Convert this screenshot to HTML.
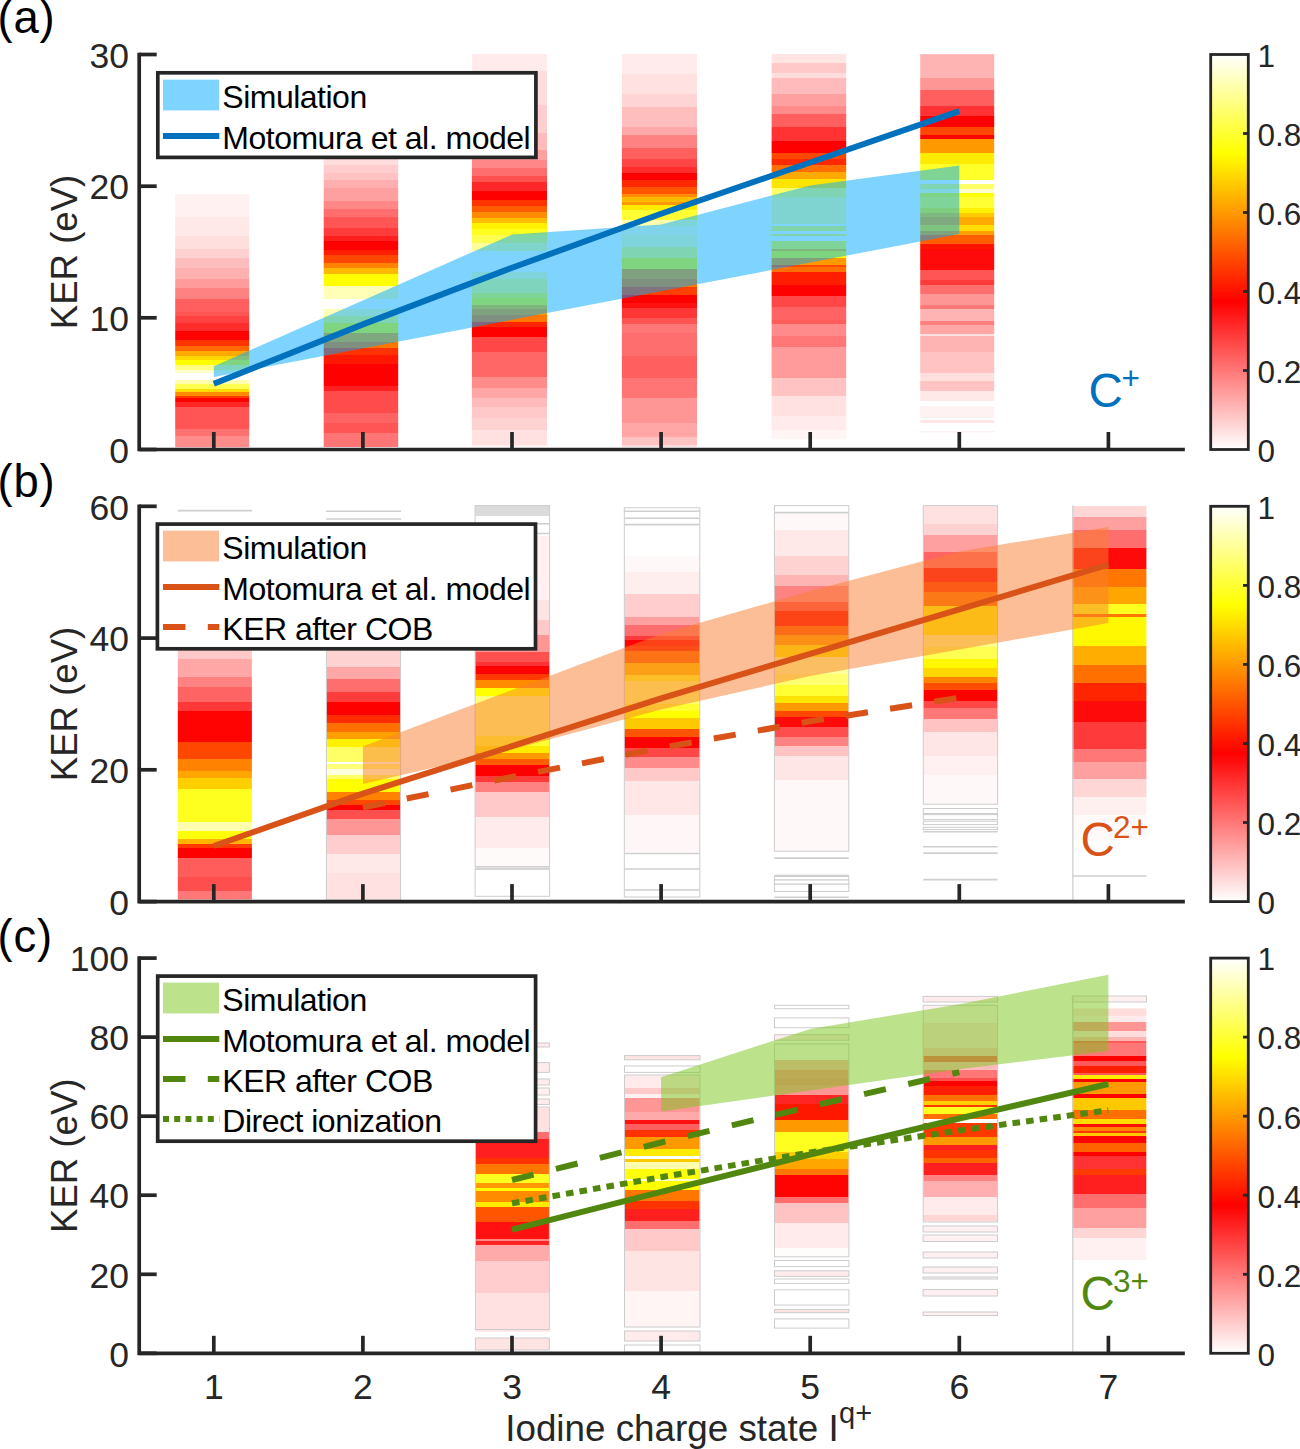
<!DOCTYPE html>
<html><head><meta charset="utf-8"><style>
html,body{margin:0;padding:0;background:#fff;}
svg{display:block;font-family:'Liberation Sans',sans-serif}
</style></head><body>
<svg width="1300" height="1449" viewBox="0 0 1300 1449">
<defs><linearGradient id="g1" x1="0" y1="0" x2="0" y2="1"><stop offset="0.0000" stop-color="#fff1f1"/><stop offset="0.0908" stop-color="#fff1f1"/><stop offset="0.0908" stop-color="#ffe8e8"/><stop offset="0.1650" stop-color="#ffe8e8"/><stop offset="0.1650" stop-color="#ffdede"/><stop offset="0.2163" stop-color="#ffdede"/><stop offset="0.2163" stop-color="#ffd0d0"/><stop offset="0.2535" stop-color="#ffd0d0"/><stop offset="0.2535" stop-color="#ffbebe"/><stop offset="0.2921" stop-color="#ffbebe"/><stop offset="0.2921" stop-color="#ffb0b0"/><stop offset="0.3348" stop-color="#ffb0b0"/><stop offset="0.3348" stop-color="#ff9b9b"/><stop offset="0.3703" stop-color="#ff9b9b"/><stop offset="0.3703" stop-color="#ff8282"/><stop offset="0.4129" stop-color="#ff8282"/><stop offset="0.4129" stop-color="#ff5f5f"/><stop offset="0.4659" stop-color="#ff5f5f"/><stop offset="0.4659" stop-color="#ff5555"/><stop offset="0.4801" stop-color="#ff5555"/><stop offset="0.4801" stop-color="#ff4141"/><stop offset="0.5109" stop-color="#ff4141"/><stop offset="0.5109" stop-color="#ff2c2c"/><stop offset="0.5401" stop-color="#ff2c2c"/><stop offset="0.5401" stop-color="#ff0303"/><stop offset="0.5772" stop-color="#ff0303"/><stop offset="0.5772" stop-color="#ff3300"/><stop offset="0.5989" stop-color="#ff3300"/><stop offset="0.5989" stop-color="#ff6900"/><stop offset="0.6210" stop-color="#ff6900"/><stop offset="0.6210" stop-color="#ffaa00"/><stop offset="0.6396" stop-color="#ffaa00"/><stop offset="0.6396" stop-color="#ffd600"/><stop offset="0.6542" stop-color="#ffd600"/><stop offset="0.6542" stop-color="#ffff00"/><stop offset="0.6763" stop-color="#ffff00"/><stop offset="0.6763" stop-color="#ffff80"/><stop offset="0.6948" stop-color="#ffff80"/><stop offset="0.6948" stop-color="#ffffcc"/><stop offset="0.7059" stop-color="#ffffcc"/><stop offset="0.7059" stop-color="#ffffff"/><stop offset="0.7351" stop-color="#ffffff"/><stop offset="0.7351" stop-color="#ffffad"/><stop offset="0.7501" stop-color="#ffffad"/><stop offset="0.7501" stop-color="#ffff52"/><stop offset="0.7683" stop-color="#ffff52"/><stop offset="0.7683" stop-color="#ffdd00"/><stop offset="0.7829" stop-color="#ffdd00"/><stop offset="0.7829" stop-color="#ff8b00"/><stop offset="0.7975" stop-color="#ff8b00"/><stop offset="0.7975" stop-color="#ff3a00"/><stop offset="0.8050" stop-color="#ff3a00"/><stop offset="0.8050" stop-color="#ff0000"/><stop offset="0.8196" stop-color="#ff0000"/><stop offset="0.8196" stop-color="#ff2525"/><stop offset="0.8417" stop-color="#ff2525"/><stop offset="0.8417" stop-color="#ff5555"/><stop offset="0.9266" stop-color="#ff5555"/><stop offset="0.9266" stop-color="#ff7070"/><stop offset="0.9558" stop-color="#ff7070"/><stop offset="0.9558" stop-color="#ff8b8b"/><stop offset="1.0000" stop-color="#ff8b8b"/></linearGradient><linearGradient id="g2" x1="0" y1="0" x2="0" y2="1"><stop offset="0.0000" stop-color="#ffdddd"/><stop offset="0.0505" stop-color="#ffdddd"/><stop offset="0.0505" stop-color="#ffcdcd"/><stop offset="0.0774" stop-color="#ffcdcd"/><stop offset="0.0774" stop-color="#ffc3c3"/><stop offset="0.1010" stop-color="#ffc3c3"/><stop offset="0.1010" stop-color="#ffafaf"/><stop offset="0.1279" stop-color="#ffafaf"/><stop offset="0.1279" stop-color="#ffa0a0"/><stop offset="0.1717" stop-color="#ffa0a0"/><stop offset="0.1717" stop-color="#ff8787"/><stop offset="0.1987" stop-color="#ff8787"/><stop offset="0.1987" stop-color="#ff6e6e"/><stop offset="0.2256" stop-color="#ff6e6e"/><stop offset="0.2256" stop-color="#ff5555"/><stop offset="0.2626" stop-color="#ff5555"/><stop offset="0.2626" stop-color="#ff3c3c"/><stop offset="0.2896" stop-color="#ff3c3c"/><stop offset="0.2896" stop-color="#ff1f1f"/><stop offset="0.3064" stop-color="#ff1f1f"/><stop offset="0.3064" stop-color="#ff0000"/><stop offset="0.3367" stop-color="#ff0000"/><stop offset="0.3367" stop-color="#ff1f00"/><stop offset="0.3535" stop-color="#ff1f00"/><stop offset="0.3535" stop-color="#ff4700"/><stop offset="0.3805" stop-color="#ff4700"/><stop offset="0.3805" stop-color="#ff8200"/><stop offset="0.3973" stop-color="#ff8200"/><stop offset="0.3973" stop-color="#ffb900"/><stop offset="0.4175" stop-color="#ffb900"/><stop offset="0.4175" stop-color="#ffff00"/><stop offset="0.4579" stop-color="#ffff00"/><stop offset="0.4579" stop-color="#ffffb8"/><stop offset="0.5027" stop-color="#ffffb8"/><stop offset="0.5027" stop-color="#ffffff"/><stop offset="0.5350" stop-color="#ffffff"/><stop offset="0.5350" stop-color="#ffffb8"/><stop offset="0.5603" stop-color="#ffffb8"/><stop offset="0.5603" stop-color="#ffff66"/><stop offset="0.5818" stop-color="#ffff66"/><stop offset="0.5818" stop-color="#ffff00"/><stop offset="0.6178" stop-color="#ffff00"/><stop offset="0.6178" stop-color="#ffa700"/><stop offset="0.6465" stop-color="#ffa700"/><stop offset="0.6465" stop-color="#ff7700"/><stop offset="0.6667" stop-color="#ff7700"/><stop offset="0.6667" stop-color="#ff3300"/><stop offset="0.6902" stop-color="#ff3300"/><stop offset="0.6902" stop-color="#ff1800"/><stop offset="0.7189" stop-color="#ff1800"/><stop offset="0.7189" stop-color="#ff0000"/><stop offset="0.7946" stop-color="#ff0000"/><stop offset="0.7946" stop-color="#ff1f1f"/><stop offset="0.8114" stop-color="#ff1f1f"/><stop offset="0.8114" stop-color="#ff4b4b"/><stop offset="0.8845" stop-color="#ff4b4b"/><stop offset="0.8845" stop-color="#ff6464"/><stop offset="0.9205" stop-color="#ff6464"/><stop offset="0.9205" stop-color="#ff5555"/><stop offset="0.9529" stop-color="#ff5555"/><stop offset="0.9529" stop-color="#ff7474"/><stop offset="1.0000" stop-color="#ff7474"/></linearGradient><linearGradient id="g3" x1="0" y1="0" x2="0" y2="1"><stop offset="0.0000" stop-color="#ffebeb"/><stop offset="0.0433" stop-color="#ffebeb"/><stop offset="0.0433" stop-color="#ffdddd"/><stop offset="0.1298" stop-color="#ffdddd"/><stop offset="0.1298" stop-color="#ffcfcf"/><stop offset="0.2010" stop-color="#ffcfcf"/><stop offset="0.2010" stop-color="#ffbbbb"/><stop offset="0.2443" stop-color="#ffbbbb"/><stop offset="0.2443" stop-color="#ffa0a0"/><stop offset="0.2707" stop-color="#ffa0a0"/><stop offset="0.2707" stop-color="#ff8787"/><stop offset="0.2891" stop-color="#ff8787"/><stop offset="0.2891" stop-color="#ff6e6e"/><stop offset="0.3102" stop-color="#ff6e6e"/><stop offset="0.3102" stop-color="#ff5050"/><stop offset="0.3257" stop-color="#ff5050"/><stop offset="0.3257" stop-color="#ff2828"/><stop offset="0.3496" stop-color="#ff2828"/><stop offset="0.3496" stop-color="#ff0000"/><stop offset="0.3707" stop-color="#ff0000"/><stop offset="0.3707" stop-color="#ff3300"/><stop offset="0.3865" stop-color="#ff3300"/><stop offset="0.3865" stop-color="#ff5c00"/><stop offset="0.4020" stop-color="#ff5c00"/><stop offset="0.4020" stop-color="#ff8b00"/><stop offset="0.4181" stop-color="#ff8b00"/><stop offset="0.4181" stop-color="#ffbe00"/><stop offset="0.4288" stop-color="#ffbe00"/><stop offset="0.4288" stop-color="#fff100"/><stop offset="0.4445" stop-color="#fff100"/><stop offset="0.4445" stop-color="#ffff1f"/><stop offset="0.4603" stop-color="#ffff1f"/><stop offset="0.4603" stop-color="#ffff52"/><stop offset="0.4814" stop-color="#ffff52"/><stop offset="0.4814" stop-color="#ffff99"/><stop offset="0.5023" stop-color="#ffff99"/><stop offset="0.5023" stop-color="#ffffff"/><stop offset="0.5547" stop-color="#ffffff"/><stop offset="0.5547" stop-color="#ffffb8"/><stop offset="0.5735" stop-color="#ffffb8"/><stop offset="0.5735" stop-color="#ffff7a"/><stop offset="0.6079" stop-color="#ffff7a"/><stop offset="0.6079" stop-color="#ffff33"/><stop offset="0.6214" stop-color="#ffff33"/><stop offset="0.6214" stop-color="#ffff00"/><stop offset="0.6377" stop-color="#ffff00"/><stop offset="0.6377" stop-color="#ffc200"/><stop offset="0.6486" stop-color="#ffc200"/><stop offset="0.6486" stop-color="#ff9900"/><stop offset="0.6649" stop-color="#ff9900"/><stop offset="0.6649" stop-color="#ff7700"/><stop offset="0.6812" stop-color="#ff7700"/><stop offset="0.6812" stop-color="#ff2500"/><stop offset="0.6949" stop-color="#ff2500"/><stop offset="0.6949" stop-color="#ff0000"/><stop offset="0.7193" stop-color="#ff0000"/><stop offset="0.7193" stop-color="#ff4747"/><stop offset="0.7575" stop-color="#ff4747"/><stop offset="0.7575" stop-color="#ff6666"/><stop offset="0.8229" stop-color="#ff6666"/><stop offset="0.8229" stop-color="#ff8b8b"/><stop offset="0.8501" stop-color="#ff8b8b"/><stop offset="0.8501" stop-color="#ffa7a7"/><stop offset="0.8746" stop-color="#ffa7a7"/><stop offset="0.8746" stop-color="#ffbbbb"/><stop offset="0.8990" stop-color="#ffbbbb"/><stop offset="0.8990" stop-color="#ffc9c9"/><stop offset="0.9262" stop-color="#ffc9c9"/><stop offset="0.9262" stop-color="#ffd2d2"/><stop offset="0.9562" stop-color="#ffd2d2"/><stop offset="0.9562" stop-color="#ffe1e1"/><stop offset="0.9944" stop-color="#ffe1e1"/><stop offset="0.9944" stop-color="#fff1f1"/><stop offset="1.0000" stop-color="#fff1f1"/></linearGradient><linearGradient id="g4" x1="0" y1="0" x2="0" y2="1"><stop offset="0.0000" stop-color="#ffebeb"/><stop offset="0.0501" stop-color="#ffebeb"/><stop offset="0.0501" stop-color="#ffe1e1"/><stop offset="0.1003" stop-color="#ffe1e1"/><stop offset="0.1003" stop-color="#ffd4d4"/><stop offset="0.1344" stop-color="#ffd4d4"/><stop offset="0.1344" stop-color="#ffbebe"/><stop offset="0.1845" stop-color="#ffbebe"/><stop offset="0.1845" stop-color="#ffaaaa"/><stop offset="0.2057" stop-color="#ffaaaa"/><stop offset="0.2057" stop-color="#ff8282"/><stop offset="0.2398" stop-color="#ff8282"/><stop offset="0.2398" stop-color="#ff5f5f"/><stop offset="0.2662" stop-color="#ff5f5f"/><stop offset="0.2662" stop-color="#ff4646"/><stop offset="0.2874" stop-color="#ff4646"/><stop offset="0.2874" stop-color="#ff2d2d"/><stop offset="0.3031" stop-color="#ff2d2d"/><stop offset="0.3031" stop-color="#ff0000"/><stop offset="0.3215" stop-color="#ff0000"/><stop offset="0.3215" stop-color="#ff2900"/><stop offset="0.3372" stop-color="#ff2900"/><stop offset="0.3372" stop-color="#ff5500"/><stop offset="0.3558" stop-color="#ff5500"/><stop offset="0.3558" stop-color="#ff8b00"/><stop offset="0.3637" stop-color="#ff8b00"/><stop offset="0.3637" stop-color="#ffbb00"/><stop offset="0.3769" stop-color="#ffbb00"/><stop offset="0.3769" stop-color="#ff9900"/><stop offset="0.3838" stop-color="#ff9900"/><stop offset="0.3838" stop-color="#ffeb00"/><stop offset="0.3976" stop-color="#ffeb00"/><stop offset="0.3976" stop-color="#ffff33"/><stop offset="0.4225" stop-color="#ffff33"/><stop offset="0.4225" stop-color="#ffffad"/><stop offset="0.4385" stop-color="#ffffad"/><stop offset="0.4385" stop-color="#ffffd6"/><stop offset="0.4614" stop-color="#ffffd6"/><stop offset="0.4614" stop-color="#ffffb8"/><stop offset="0.4910" stop-color="#ffffb8"/><stop offset="0.4910" stop-color="#ffff66"/><stop offset="0.5185" stop-color="#ffff66"/><stop offset="0.5185" stop-color="#ffff00"/><stop offset="0.5482" stop-color="#ffff00"/><stop offset="0.5482" stop-color="#ff9900"/><stop offset="0.5732" stop-color="#ff9900"/><stop offset="0.5732" stop-color="#ff7700"/><stop offset="0.5938" stop-color="#ff7700"/><stop offset="0.5938" stop-color="#ff4100"/><stop offset="0.6121" stop-color="#ff4100"/><stop offset="0.6121" stop-color="#ff0000"/><stop offset="0.6327" stop-color="#ff0000"/><stop offset="0.6327" stop-color="#ff1111"/><stop offset="0.6462" stop-color="#ff1111"/><stop offset="0.6462" stop-color="#ff3636"/><stop offset="0.6717" stop-color="#ff3636"/><stop offset="0.6717" stop-color="#ff5555"/><stop offset="0.6882" stop-color="#ff5555"/><stop offset="0.6882" stop-color="#ff7777"/><stop offset="0.7111" stop-color="#ff7777"/><stop offset="0.7111" stop-color="#ff6e6e"/><stop offset="0.7681" stop-color="#ff6e6e"/><stop offset="0.7681" stop-color="#ff5f5f"/><stop offset="0.8251" stop-color="#ff5f5f"/><stop offset="0.8251" stop-color="#ff7474"/><stop offset="0.8753" stop-color="#ff7474"/><stop offset="0.8753" stop-color="#ff9696"/><stop offset="0.9394" stop-color="#ff9696"/><stop offset="0.9394" stop-color="#ffa7a7"/><stop offset="0.9735" stop-color="#ffa7a7"/><stop offset="0.9735" stop-color="#ffc2c2"/><stop offset="0.9941" stop-color="#ffc2c2"/><stop offset="0.9941" stop-color="#ffdddd"/><stop offset="1.0000" stop-color="#ffdddd"/></linearGradient><linearGradient id="g5" x1="0" y1="0" x2="0" y2="1"><stop offset="0.0000" stop-color="#ffe4e4"/><stop offset="0.0244" stop-color="#ffe4e4"/><stop offset="0.0244" stop-color="#ffc9c9"/><stop offset="0.0485" stop-color="#ffc9c9"/><stop offset="0.0485" stop-color="#ffdddd"/><stop offset="0.0620" stop-color="#ffdddd"/><stop offset="0.0620" stop-color="#ffbbbb"/><stop offset="0.1023" stop-color="#ffbbbb"/><stop offset="0.1023" stop-color="#ffa0a0"/><stop offset="0.1345" stop-color="#ffa0a0"/><stop offset="0.1345" stop-color="#ff8b8b"/><stop offset="0.1560" stop-color="#ff8b8b"/><stop offset="0.1560" stop-color="#ff5f5f"/><stop offset="0.1882" stop-color="#ff5f5f"/><stop offset="0.1882" stop-color="#ff3333"/><stop offset="0.2259" stop-color="#ff3333"/><stop offset="0.2259" stop-color="#ff0000"/><stop offset="0.2580" stop-color="#ff0000"/><stop offset="0.2580" stop-color="#ff4700"/><stop offset="0.2715" stop-color="#ff4700"/><stop offset="0.2715" stop-color="#ff2900"/><stop offset="0.2876" stop-color="#ff2900"/><stop offset="0.2876" stop-color="#ff7000"/><stop offset="0.3066" stop-color="#ff7000"/><stop offset="0.3066" stop-color="#ffaa00"/><stop offset="0.3253" stop-color="#ffaa00"/><stop offset="0.3253" stop-color="#ffe400"/><stop offset="0.3468" stop-color="#ffe400"/><stop offset="0.3468" stop-color="#ffff66"/><stop offset="0.3710" stop-color="#ffff66"/><stop offset="0.3710" stop-color="#ffffa3"/><stop offset="0.4403" stop-color="#ffffa3"/><stop offset="0.4403" stop-color="#ffffff"/><stop offset="0.4463" stop-color="#ffffff"/><stop offset="0.4463" stop-color="#ffff52"/><stop offset="0.4590" stop-color="#ffff52"/><stop offset="0.4590" stop-color="#ffffff"/><stop offset="0.4660" stop-color="#ffffff"/><stop offset="0.4660" stop-color="#ffff52"/><stop offset="0.4730" stop-color="#ffff52"/><stop offset="0.4730" stop-color="#ffffff"/><stop offset="0.4847" stop-color="#ffffff"/><stop offset="0.4847" stop-color="#ffff33"/><stop offset="0.5055" stop-color="#ffff33"/><stop offset="0.5055" stop-color="#ffc200"/><stop offset="0.5101" stop-color="#ffc200"/><stop offset="0.5101" stop-color="#ffff00"/><stop offset="0.5288" stop-color="#ffff00"/><stop offset="0.5288" stop-color="#ff9900"/><stop offset="0.5475" stop-color="#ff9900"/><stop offset="0.5475" stop-color="#ff4700"/><stop offset="0.5527" stop-color="#ff4700"/><stop offset="0.5527" stop-color="#ff7000"/><stop offset="0.5662" stop-color="#ff7000"/><stop offset="0.5662" stop-color="#ff1f00"/><stop offset="0.5987" stop-color="#ff1f00"/><stop offset="0.5987" stop-color="#ff0000"/><stop offset="0.6290" stop-color="#ff0000"/><stop offset="0.6290" stop-color="#ff4747"/><stop offset="0.6568" stop-color="#ff4747"/><stop offset="0.6568" stop-color="#ff6363"/><stop offset="0.6903" stop-color="#ff6363"/><stop offset="0.6903" stop-color="#ff5c5c"/><stop offset="0.6996" stop-color="#ff5c5c"/><stop offset="0.6996" stop-color="#ff8b8b"/><stop offset="0.7321" stop-color="#ff8b8b"/><stop offset="0.7321" stop-color="#ff7777"/><stop offset="0.7601" stop-color="#ff7777"/><stop offset="0.7601" stop-color="#ff9b9b"/><stop offset="0.8416" stop-color="#ff9b9b"/><stop offset="0.8416" stop-color="#ffc3c3"/><stop offset="0.8884" stop-color="#ffc3c3"/><stop offset="0.8884" stop-color="#ffe1e1"/><stop offset="0.9395" stop-color="#ffe1e1"/><stop offset="0.9395" stop-color="#ffebeb"/><stop offset="0.9769" stop-color="#ffebeb"/><stop offset="0.9769" stop-color="#fff5f5"/><stop offset="1.0000" stop-color="#fff5f5"/></linearGradient><linearGradient id="g6" x1="0" y1="0" x2="0" y2="1"><stop offset="0.0000" stop-color="#ffb4b4"/><stop offset="0.0631" stop-color="#ffb4b4"/><stop offset="0.0631" stop-color="#ff9696"/><stop offset="0.0959" stop-color="#ff9696"/><stop offset="0.0959" stop-color="#ff5f5f"/><stop offset="0.1369" stop-color="#ff5f5f"/><stop offset="0.1369" stop-color="#ff3333"/><stop offset="0.1643" stop-color="#ff3333"/><stop offset="0.1643" stop-color="#ff0000"/><stop offset="0.1915" stop-color="#ff0000"/><stop offset="0.1915" stop-color="#ff4700"/><stop offset="0.2135" stop-color="#ff4700"/><stop offset="0.2135" stop-color="#ff0300"/><stop offset="0.2243" stop-color="#ff0300"/><stop offset="0.2243" stop-color="#ff9900"/><stop offset="0.2626" stop-color="#ff9900"/><stop offset="0.2626" stop-color="#ffeb00"/><stop offset="0.2901" stop-color="#ffeb00"/><stop offset="0.2901" stop-color="#ffff29"/><stop offset="0.3337" stop-color="#ffff29"/><stop offset="0.3337" stop-color="#ffffff"/><stop offset="0.3419" stop-color="#ffffff"/><stop offset="0.3419" stop-color="#ffff66"/><stop offset="0.3556" stop-color="#ffff66"/><stop offset="0.3556" stop-color="#ffffcc"/><stop offset="0.3667" stop-color="#ffffcc"/><stop offset="0.3667" stop-color="#ffff0a"/><stop offset="0.3770" stop-color="#ffff0a"/><stop offset="0.3770" stop-color="#ffff33"/><stop offset="0.4079" stop-color="#ffff33"/><stop offset="0.4079" stop-color="#fff100"/><stop offset="0.4198" stop-color="#fff100"/><stop offset="0.4198" stop-color="#ffc900"/><stop offset="0.4314" stop-color="#ffc900"/><stop offset="0.4314" stop-color="#ffaa00"/><stop offset="0.4528" stop-color="#ffaa00"/><stop offset="0.4528" stop-color="#ffdd00"/><stop offset="0.4671" stop-color="#ffdd00"/><stop offset="0.4671" stop-color="#ffa000"/><stop offset="0.4790" stop-color="#ffa000"/><stop offset="0.4790" stop-color="#ff5f00"/><stop offset="0.5025" stop-color="#ff5f00"/><stop offset="0.5025" stop-color="#ff1400"/><stop offset="0.5144" stop-color="#ff1400"/><stop offset="0.5144" stop-color="#ff0a0a"/><stop offset="0.5691" stop-color="#ff0a0a"/><stop offset="0.5691" stop-color="#ff5555"/><stop offset="0.5974" stop-color="#ff5555"/><stop offset="0.5974" stop-color="#ff3a3a"/><stop offset="0.6092" stop-color="#ff3a3a"/><stop offset="0.6092" stop-color="#ff6e6e"/><stop offset="0.6330" stop-color="#ff6e6e"/><stop offset="0.6330" stop-color="#ff9696"/><stop offset="0.6639" stop-color="#ff9696"/><stop offset="0.6639" stop-color="#ff7777"/><stop offset="0.6734" stop-color="#ff7777"/><stop offset="0.6734" stop-color="#ffb4b4"/><stop offset="0.7041" stop-color="#ffb4b4"/><stop offset="0.7041" stop-color="#ff7e7e"/><stop offset="0.7168" stop-color="#ff7e7e"/><stop offset="0.7168" stop-color="#ffa7a7"/><stop offset="0.7382" stop-color="#ffa7a7"/><stop offset="0.7382" stop-color="#ffe1e1"/><stop offset="0.7450" stop-color="#ffe1e1"/><stop offset="0.7450" stop-color="#ffb4b4"/><stop offset="0.7878" stop-color="#ffb4b4"/><stop offset="0.7878" stop-color="#ffc3c3"/><stop offset="0.8425" stop-color="#ffc3c3"/><stop offset="0.8425" stop-color="#ffdede"/><stop offset="0.8637" stop-color="#ffdede"/><stop offset="0.8637" stop-color="#ffc3c3"/><stop offset="0.8898" stop-color="#ffc3c3"/><stop offset="0.8898" stop-color="#ffe8e8"/><stop offset="0.9157" stop-color="#ffe8e8"/><stop offset="0.9157" stop-color="#ffffff"/><stop offset="0.9300" stop-color="#ffffff"/><stop offset="0.9300" stop-color="#fff2f2"/><stop offset="0.9609" stop-color="#fff2f2"/><stop offset="0.9609" stop-color="#ffffff"/><stop offset="0.9680" stop-color="#ffffff"/><stop offset="0.9680" stop-color="#ffe6e6"/><stop offset="0.9738" stop-color="#ffe6e6"/><stop offset="0.9738" stop-color="#ffffff"/><stop offset="0.9952" stop-color="#ffffff"/><stop offset="0.9952" stop-color="#fff0f0"/><stop offset="1.0000" stop-color="#fff0f0"/></linearGradient><linearGradient id="cb7" x1="0" y1="1" x2="0" y2="0"><stop offset="0.000" stop-color="#ffffff"/><stop offset="0.375" stop-color="#ff0000"/><stop offset="0.750" stop-color="#ffff00"/><stop offset="1.000" stop-color="#ffffff"/></linearGradient><linearGradient id="g8" x1="0" y1="0" x2="0" y2="1"><stop offset="0.0000" stop-color="#ffc9c9"/><stop offset="0.3377" stop-color="#ffc9c9"/><stop offset="0.3377" stop-color="#ffc9c9"/><stop offset="0.3582" stop-color="#ffc9c9"/><stop offset="0.3582" stop-color="#ffa7a7"/><stop offset="0.4083" stop-color="#ffa7a7"/><stop offset="0.4083" stop-color="#ff8282"/><stop offset="0.4346" stop-color="#ff8282"/><stop offset="0.4346" stop-color="#ff6464"/><stop offset="0.4751" stop-color="#ff6464"/><stop offset="0.4751" stop-color="#ff3737"/><stop offset="0.4991" stop-color="#ff3737"/><stop offset="0.4991" stop-color="#ff0303"/><stop offset="0.5803" stop-color="#ff0303"/><stop offset="0.5803" stop-color="#ff4700"/><stop offset="0.6258" stop-color="#ff4700"/><stop offset="0.6258" stop-color="#ff8200"/><stop offset="0.6567" stop-color="#ff8200"/><stop offset="0.6567" stop-color="#ffa700"/><stop offset="0.6775" stop-color="#ffa700"/><stop offset="0.6775" stop-color="#ffcf00"/><stop offset="0.7047" stop-color="#ffcf00"/><stop offset="0.7047" stop-color="#ffff1f"/><stop offset="0.7941" stop-color="#ffff1f"/><stop offset="0.7941" stop-color="#ffffad"/><stop offset="0.8189" stop-color="#ffffad"/><stop offset="0.8189" stop-color="#ffff0a"/><stop offset="0.8389" stop-color="#ffff0a"/><stop offset="0.8389" stop-color="#ffb400"/><stop offset="0.8511" stop-color="#ffb400"/><stop offset="0.8511" stop-color="#ff3a00"/><stop offset="0.8636" stop-color="#ff3a00"/><stop offset="0.8636" stop-color="#ff0000"/><stop offset="0.8908" stop-color="#ff0000"/><stop offset="0.8908" stop-color="#ff5c5c"/><stop offset="0.9403" stop-color="#ff5c5c"/><stop offset="0.9403" stop-color="#ff4e4e"/><stop offset="0.9776" stop-color="#ff4e4e"/><stop offset="0.9776" stop-color="#ff7777"/><stop offset="1.0000" stop-color="#ff7777"/></linearGradient><linearGradient id="g9" x1="0" y1="0" x2="0" y2="1"><stop offset="0.0000" stop-color="#ffdddd"/><stop offset="0.3377" stop-color="#ffdddd"/><stop offset="0.3377" stop-color="#ffd2d2"/><stop offset="0.3819" stop-color="#ffd2d2"/><stop offset="0.3819" stop-color="#ffa7a7"/><stop offset="0.4130" stop-color="#ffa7a7"/><stop offset="0.4130" stop-color="#ff6e6e"/><stop offset="0.4466" stop-color="#ff6e6e"/><stop offset="0.4466" stop-color="#ff3c3c"/><stop offset="0.4751" stop-color="#ff3c3c"/><stop offset="0.4751" stop-color="#ff0000"/><stop offset="0.5087" stop-color="#ff0000"/><stop offset="0.5087" stop-color="#ff2c00"/><stop offset="0.5300" stop-color="#ff2c00"/><stop offset="0.5300" stop-color="#ff7000"/><stop offset="0.5539" stop-color="#ff7000"/><stop offset="0.5539" stop-color="#ffa000"/><stop offset="0.5731" stop-color="#ffa000"/><stop offset="0.5731" stop-color="#fff100"/><stop offset="0.5947" stop-color="#fff100"/><stop offset="0.5947" stop-color="#ffff66"/><stop offset="0.6328" stop-color="#ffff66"/><stop offset="0.6328" stop-color="#ffffff"/><stop offset="0.6399" stop-color="#ffffff"/><stop offset="0.6399" stop-color="#ffff7a"/><stop offset="0.6519" stop-color="#ffff7a"/><stop offset="0.6519" stop-color="#ffffe0"/><stop offset="0.6676" stop-color="#ffffe0"/><stop offset="0.6676" stop-color="#ffff66"/><stop offset="0.6799" stop-color="#ffff66"/><stop offset="0.6799" stop-color="#ffff00"/><stop offset="0.7148" stop-color="#ffff00"/><stop offset="0.7148" stop-color="#ff8200"/><stop offset="0.7345" stop-color="#ff8200"/><stop offset="0.7345" stop-color="#ff4700"/><stop offset="0.7494" stop-color="#ff4700"/><stop offset="0.7494" stop-color="#ff0000"/><stop offset="0.7619" stop-color="#ff0000"/><stop offset="0.7619" stop-color="#ff4e4e"/><stop offset="0.7867" stop-color="#ff4e4e"/><stop offset="0.7867" stop-color="#ff9696"/><stop offset="0.8288" stop-color="#ff9696"/><stop offset="0.8288" stop-color="#ffcdcd"/><stop offset="0.8786" stop-color="#ffcdcd"/><stop offset="0.8786" stop-color="#ffe8e8"/><stop offset="0.9281" stop-color="#ffe8e8"/><stop offset="0.9281" stop-color="#ffe1e1"/><stop offset="1.0000" stop-color="#ffe1e1"/></linearGradient><linearGradient id="g10" x1="0" y1="0" x2="0" y2="1"><stop offset="0.0000" stop-color="#fff1f1"/><stop offset="0.1935" stop-color="#fff1f1"/><stop offset="0.1935" stop-color="#ffe4e4"/><stop offset="0.2539" stop-color="#ffe4e4"/><stop offset="0.2539" stop-color="#ffc9c9"/><stop offset="0.2978" stop-color="#ffc9c9"/><stop offset="0.2978" stop-color="#ff9696"/><stop offset="0.3504" stop-color="#ff9696"/><stop offset="0.3504" stop-color="#ff5050"/><stop offset="0.3794" stop-color="#ff5050"/><stop offset="0.3794" stop-color="#ff3333"/><stop offset="0.3942" stop-color="#ff3333"/><stop offset="0.3942" stop-color="#ff0000"/><stop offset="0.4175" stop-color="#ff0000"/><stop offset="0.4175" stop-color="#ff3a00"/><stop offset="0.4350" stop-color="#ff3a00"/><stop offset="0.4350" stop-color="#ff8b00"/><stop offset="0.4583" stop-color="#ff8b00"/><stop offset="0.4583" stop-color="#ffff00"/><stop offset="0.4846" stop-color="#ffff00"/><stop offset="0.4846" stop-color="#ffff7a"/><stop offset="0.6046" stop-color="#ffff7a"/><stop offset="0.6046" stop-color="#ffff33"/><stop offset="0.6336" stop-color="#ffff33"/><stop offset="0.6336" stop-color="#ffeb00"/><stop offset="0.6569" stop-color="#ffeb00"/><stop offset="0.6569" stop-color="#ff9900"/><stop offset="0.6744" stop-color="#ff9900"/><stop offset="0.6744" stop-color="#ff5c00"/><stop offset="0.6935" stop-color="#ff5c00"/><stop offset="0.6935" stop-color="#ff0000"/><stop offset="0.7246" stop-color="#ff0000"/><stop offset="0.7246" stop-color="#ff3a3a"/><stop offset="0.7433" stop-color="#ff3a3a"/><stop offset="0.7433" stop-color="#ff8282"/><stop offset="0.7748" stop-color="#ff8282"/><stop offset="0.7748" stop-color="#ffc9c9"/><stop offset="0.8498" stop-color="#ffc9c9"/><stop offset="0.8498" stop-color="#ffebeb"/><stop offset="0.9438" stop-color="#ffebeb"/><stop offset="0.9438" stop-color="#fffafa"/><stop offset="1.0000" stop-color="#fffafa"/></linearGradient><linearGradient id="g11" x1="0" y1="0" x2="0" y2="1"><stop offset="0.0000" stop-color="#fff8f8"/><stop offset="0.0524" stop-color="#fff8f8"/><stop offset="0.0524" stop-color="#ffeeee"/><stop offset="0.1275" stop-color="#ffeeee"/><stop offset="0.1275" stop-color="#ffcdcd"/><stop offset="0.2060" stop-color="#ffcdcd"/><stop offset="0.2060" stop-color="#ffa0a0"/><stop offset="0.2321" stop-color="#ffa0a0"/><stop offset="0.2321" stop-color="#ff6e6e"/><stop offset="0.2683" stop-color="#ff6e6e"/><stop offset="0.2683" stop-color="#ff3a3a"/><stop offset="0.2845" stop-color="#ff3a3a"/><stop offset="0.2845" stop-color="#ff0303"/><stop offset="0.3041" stop-color="#ff0303"/><stop offset="0.3041" stop-color="#ff1f00"/><stop offset="0.3204" stop-color="#ff1f00"/><stop offset="0.3204" stop-color="#ff6900"/><stop offset="0.3596" stop-color="#ff6900"/><stop offset="0.3596" stop-color="#ffc200"/><stop offset="0.4012" stop-color="#ffc200"/><stop offset="0.4012" stop-color="#ffff1f"/><stop offset="0.4208" stop-color="#ffff1f"/><stop offset="0.4208" stop-color="#ffff70"/><stop offset="0.4993" stop-color="#ffff70"/><stop offset="0.4993" stop-color="#ffff33"/><stop offset="0.5230" stop-color="#ffff33"/><stop offset="0.5230" stop-color="#ffff00"/><stop offset="0.5450" stop-color="#ffff00"/><stop offset="0.5450" stop-color="#ffc900"/><stop offset="0.5842" stop-color="#ffc900"/><stop offset="0.5842" stop-color="#ff5500"/><stop offset="0.6103" stop-color="#ff5500"/><stop offset="0.6103" stop-color="#ff0000"/><stop offset="0.6495" stop-color="#ff0000"/><stop offset="0.6495" stop-color="#ff4747"/><stop offset="0.6790" stop-color="#ff4747"/><stop offset="0.6790" stop-color="#ff8b8b"/><stop offset="0.7152" stop-color="#ff8b8b"/><stop offset="0.7152" stop-color="#ffc9c9"/><stop offset="0.7608" stop-color="#ffc9c9"/><stop offset="0.7608" stop-color="#ffe7e7"/><stop offset="0.8748" stop-color="#ffe7e7"/><stop offset="0.8748" stop-color="#fff7f7"/><stop offset="1.0000" stop-color="#fff7f7"/></linearGradient><linearGradient id="g12" x1="0" y1="0" x2="0" y2="1"><stop offset="0.0000" stop-color="#fff8f8"/><stop offset="0.0486" stop-color="#fff8f8"/><stop offset="0.0486" stop-color="#ffe8e8"/><stop offset="0.1260" stop-color="#ffe8e8"/><stop offset="0.1260" stop-color="#ffd2d2"/><stop offset="0.1806" stop-color="#ffd2d2"/><stop offset="0.1806" stop-color="#ffb4b4"/><stop offset="0.2149" stop-color="#ffb4b4"/><stop offset="0.2149" stop-color="#ff8282"/><stop offset="0.2606" stop-color="#ff8282"/><stop offset="0.2606" stop-color="#ff4b4b"/><stop offset="0.2894" stop-color="#ff4b4b"/><stop offset="0.2894" stop-color="#ff0a00"/><stop offset="0.3323" stop-color="#ff0a00"/><stop offset="0.3323" stop-color="#ff5c00"/><stop offset="0.3608" stop-color="#ff5c00"/><stop offset="0.3608" stop-color="#ffa000"/><stop offset="0.3887" stop-color="#ffa000"/><stop offset="0.3887" stop-color="#ffeb00"/><stop offset="0.4260" stop-color="#ffeb00"/><stop offset="0.4260" stop-color="#ffff99"/><stop offset="0.4747" stop-color="#ffff99"/><stop offset="0.4747" stop-color="#ffff70"/><stop offset="0.5090" stop-color="#ffff70"/><stop offset="0.5090" stop-color="#ffff33"/><stop offset="0.5405" stop-color="#ffff33"/><stop offset="0.5405" stop-color="#ffe400"/><stop offset="0.5606" stop-color="#ffe400"/><stop offset="0.5606" stop-color="#ff9900"/><stop offset="0.5835" stop-color="#ff9900"/><stop offset="0.5835" stop-color="#ff4700"/><stop offset="0.6036" stop-color="#ff4700"/><stop offset="0.6036" stop-color="#ff0a0a"/><stop offset="0.6324" stop-color="#ff0a0a"/><stop offset="0.6324" stop-color="#ff4e4e"/><stop offset="0.6608" stop-color="#ff4e4e"/><stop offset="0.6608" stop-color="#ff8282"/><stop offset="0.6896" stop-color="#ff8282"/><stop offset="0.6896" stop-color="#ffc3c3"/><stop offset="0.7184" stop-color="#ffc3c3"/><stop offset="0.7184" stop-color="#ffe6e6"/><stop offset="0.7895" stop-color="#ffe6e6"/><stop offset="0.7895" stop-color="#fff8f8"/><stop offset="1.0000" stop-color="#fff8f8"/></linearGradient><linearGradient id="g13" x1="0" y1="0" x2="0" y2="1"><stop offset="0.0000" stop-color="#ffe1e1"/><stop offset="0.0611" stop-color="#ffe1e1"/><stop offset="0.0611" stop-color="#ffd2d2"/><stop offset="0.0966" stop-color="#ffd2d2"/><stop offset="0.0966" stop-color="#ffa0a0"/><stop offset="0.1550" stop-color="#ffa0a0"/><stop offset="0.1550" stop-color="#ff6464"/><stop offset="0.2067" stop-color="#ff6464"/><stop offset="0.2067" stop-color="#ff0a0a"/><stop offset="0.2554" stop-color="#ff0a0a"/><stop offset="0.2554" stop-color="#ff3600"/><stop offset="0.2879" stop-color="#ff3600"/><stop offset="0.2879" stop-color="#ff7400"/><stop offset="0.3366" stop-color="#ff7400"/><stop offset="0.3366" stop-color="#fff800"/><stop offset="0.4329" stop-color="#fff800"/><stop offset="0.4329" stop-color="#ffff85"/><stop offset="0.4718" stop-color="#ffff85"/><stop offset="0.4718" stop-color="#ffff52"/><stop offset="0.5141" stop-color="#ffff52"/><stop offset="0.5141" stop-color="#fff800"/><stop offset="0.5433" stop-color="#fff800"/><stop offset="0.5433" stop-color="#ffd600"/><stop offset="0.5755" stop-color="#ffd600"/><stop offset="0.5755" stop-color="#ff8500"/><stop offset="0.5950" stop-color="#ff8500"/><stop offset="0.5950" stop-color="#ff4e00"/><stop offset="0.6178" stop-color="#ff4e00"/><stop offset="0.6178" stop-color="#ff0000"/><stop offset="0.6534" stop-color="#ff0000"/><stop offset="0.6534" stop-color="#ff4747"/><stop offset="0.6792" stop-color="#ff4747"/><stop offset="0.6792" stop-color="#ff7777"/><stop offset="0.7151" stop-color="#ff7777"/><stop offset="0.7151" stop-color="#ffc3c3"/><stop offset="0.7570" stop-color="#ffc3c3"/><stop offset="0.7570" stop-color="#ffe6e6"/><stop offset="0.8383" stop-color="#ffe6e6"/><stop offset="0.8383" stop-color="#fff1f1"/><stop offset="0.9027" stop-color="#fff1f1"/><stop offset="0.9027" stop-color="#fff8f8"/><stop offset="1.0000" stop-color="#fff8f8"/></linearGradient><linearGradient id="g14" x1="0" y1="0" x2="0" y2="1"><stop offset="0.0000" stop-color="#ffd6d6"/><stop offset="0.0341" stop-color="#ffd6d6"/><stop offset="0.0341" stop-color="#ffa0a0"/><stop offset="0.0719" stop-color="#ffa0a0"/><stop offset="0.0719" stop-color="#ff6e6e"/><stop offset="0.1266" stop-color="#ff6e6e"/><stop offset="0.1266" stop-color="#ff0a0a"/><stop offset="0.1874" stop-color="#ff0a0a"/><stop offset="0.1874" stop-color="#ff7700"/><stop offset="0.2425" stop-color="#ff7700"/><stop offset="0.2425" stop-color="#ffa700"/><stop offset="0.2943" stop-color="#ffa700"/><stop offset="0.2943" stop-color="#ffff1f"/><stop offset="0.3234" stop-color="#ffff1f"/><stop offset="0.3234" stop-color="#ff7700"/><stop offset="0.3320" stop-color="#ff7700"/><stop offset="0.3320" stop-color="#fff800"/><stop offset="0.4198" stop-color="#fff800"/><stop offset="0.4198" stop-color="#ffad00"/><stop offset="0.4754" stop-color="#ffad00"/><stop offset="0.4754" stop-color="#ff7000"/><stop offset="0.5311" stop-color="#ff7000"/><stop offset="0.5311" stop-color="#ff2500"/><stop offset="0.5832" stop-color="#ff2500"/><stop offset="0.5832" stop-color="#ff0a0a"/><stop offset="0.6467" stop-color="#ff0a0a"/><stop offset="0.6467" stop-color="#ff3a3a"/><stop offset="0.7284" stop-color="#ff3a3a"/><stop offset="0.7284" stop-color="#ff7777"/><stop offset="0.7656" stop-color="#ff7777"/><stop offset="0.7656" stop-color="#ffa0a0"/><stop offset="0.8177" stop-color="#ffa0a0"/><stop offset="0.8177" stop-color="#ffd6d6"/><stop offset="0.8698" stop-color="#ffd6d6"/><stop offset="0.8698" stop-color="#fff0f0"/><stop offset="0.9251" stop-color="#fff0f0"/><stop offset="0.9251" stop-color="#fffafa"/><stop offset="1.0000" stop-color="#fffafa"/></linearGradient><linearGradient id="cb15" x1="0" y1="1" x2="0" y2="0"><stop offset="0.000" stop-color="#ffffff"/><stop offset="0.375" stop-color="#ff0000"/><stop offset="0.750" stop-color="#ffff00"/><stop offset="1.000" stop-color="#ffffff"/></linearGradient><linearGradient id="g16" x1="0" y1="0" x2="0" y2="1"><stop offset="0.0000" stop-color="#ffe1e1"/><stop offset="0.1081" stop-color="#ffe1e1"/><stop offset="0.1081" stop-color="#ff6e6e"/><stop offset="0.1380" stop-color="#ff6e6e"/><stop offset="0.1380" stop-color="#ff1f1f"/><stop offset="0.1728" stop-color="#ff1f1f"/><stop offset="0.1728" stop-color="#ff1f1f"/><stop offset="0.2247" stop-color="#ff1f1f"/><stop offset="0.2247" stop-color="#ff3300"/><stop offset="0.2506" stop-color="#ff3300"/><stop offset="0.2506" stop-color="#ff7700"/><stop offset="0.2979" stop-color="#ff7700"/><stop offset="0.2979" stop-color="#ffff1f"/><stop offset="0.3368" stop-color="#ffff1f"/><stop offset="0.3368" stop-color="#ff9900"/><stop offset="0.3582" stop-color="#ff9900"/><stop offset="0.3582" stop-color="#ffff00"/><stop offset="0.3711" stop-color="#ffff00"/><stop offset="0.3711" stop-color="#ff8b00"/><stop offset="0.4230" stop-color="#ff8b00"/><stop offset="0.4230" stop-color="#ffeb00"/><stop offset="0.4444" stop-color="#ffeb00"/><stop offset="0.4444" stop-color="#ff5500"/><stop offset="0.5092" stop-color="#ff5500"/><stop offset="0.5092" stop-color="#ff1111"/><stop offset="0.5842" stop-color="#ff1111"/><stop offset="0.5842" stop-color="#ff8585"/><stop offset="0.5954" stop-color="#ff8585"/><stop offset="0.5954" stop-color="#ff2525"/><stop offset="0.6150" stop-color="#ff2525"/><stop offset="0.6150" stop-color="#ffaaaa"/><stop offset="0.6842" stop-color="#ffaaaa"/><stop offset="0.6842" stop-color="#ffcdcd"/><stop offset="0.8267" stop-color="#ffcdcd"/><stop offset="0.8267" stop-color="#ffe1e1"/><stop offset="1.0000" stop-color="#ffe1e1"/></linearGradient><linearGradient id="g17" x1="0" y1="0" x2="0" y2="1"><stop offset="0.0000" stop-color="#ffebeb"/><stop offset="0.0492" stop-color="#ffebeb"/><stop offset="0.0492" stop-color="#ffc9c9"/><stop offset="0.0757" stop-color="#ffc9c9"/><stop offset="0.0757" stop-color="#fff1f1"/><stop offset="0.0912" stop-color="#fff1f1"/><stop offset="0.0912" stop-color="#ff9696"/><stop offset="0.1447" stop-color="#ff9696"/><stop offset="0.1447" stop-color="#ffaaaa"/><stop offset="0.1757" stop-color="#ffaaaa"/><stop offset="0.1757" stop-color="#ff1111"/><stop offset="0.1947" stop-color="#ff1111"/><stop offset="0.1947" stop-color="#ff5f5f"/><stop offset="0.2177" stop-color="#ff5f5f"/><stop offset="0.2177" stop-color="#ff3300"/><stop offset="0.2446" stop-color="#ff3300"/><stop offset="0.2446" stop-color="#ff9900"/><stop offset="0.2942" stop-color="#ff9900"/><stop offset="0.2942" stop-color="#ffeb00"/><stop offset="0.3212" stop-color="#ffeb00"/><stop offset="0.3212" stop-color="#ffffff"/><stop offset="0.3307" stop-color="#ffffff"/><stop offset="0.3307" stop-color="#ffc900"/><stop offset="0.3442" stop-color="#ffc900"/><stop offset="0.3442" stop-color="#ffffad"/><stop offset="0.3707" stop-color="#ffffad"/><stop offset="0.3707" stop-color="#ffff0a"/><stop offset="0.4092" stop-color="#ffff0a"/><stop offset="0.4092" stop-color="#ffffcc"/><stop offset="0.4207" stop-color="#ffffcc"/><stop offset="0.4207" stop-color="#ffff00"/><stop offset="0.4540" stop-color="#ffff00"/><stop offset="0.4540" stop-color="#ff7700"/><stop offset="0.4972" stop-color="#ff7700"/><stop offset="0.4972" stop-color="#ff3300"/><stop offset="0.5309" stop-color="#ff3300"/><stop offset="0.5309" stop-color="#ff1f1f"/><stop offset="0.5785" stop-color="#ff1f1f"/><stop offset="0.5785" stop-color="#ff6e6e"/><stop offset="0.6075" stop-color="#ff6e6e"/><stop offset="0.6075" stop-color="#ffc9c9"/><stop offset="0.6983" stop-color="#ffc9c9"/><stop offset="0.6983" stop-color="#ffe4e4"/><stop offset="0.8565" stop-color="#ffe4e4"/><stop offset="0.8565" stop-color="#fff5f5"/><stop offset="1.0000" stop-color="#fff5f5"/></linearGradient><linearGradient id="g18" x1="0" y1="0" x2="0" y2="1"><stop offset="0.0000" stop-color="#fff8f8"/><stop offset="0.0767" stop-color="#fff8f8"/><stop offset="0.0767" stop-color="#ffb4b4"/><stop offset="0.1239" stop-color="#ffb4b4"/><stop offset="0.1239" stop-color="#ff8f8f"/><stop offset="0.1669" stop-color="#ff8f8f"/><stop offset="0.1669" stop-color="#ff8888"/><stop offset="0.1940" stop-color="#ff8888"/><stop offset="0.1940" stop-color="#ff9696"/><stop offset="0.2394" stop-color="#ff9696"/><stop offset="0.2394" stop-color="#ff2525"/><stop offset="0.2842" stop-color="#ff2525"/><stop offset="0.2842" stop-color="#ff1800"/><stop offset="0.3567" stop-color="#ff1800"/><stop offset="0.3567" stop-color="#ff9900"/><stop offset="0.4156" stop-color="#ff9900"/><stop offset="0.4156" stop-color="#ffff1f"/><stop offset="0.5072" stop-color="#ffff1f"/><stop offset="0.5072" stop-color="#ffcf00"/><stop offset="0.5400" stop-color="#ffcf00"/><stop offset="0.5400" stop-color="#ffa700"/><stop offset="0.5867" stop-color="#ffa700"/><stop offset="0.5867" stop-color="#ff7700"/><stop offset="0.6162" stop-color="#ff7700"/><stop offset="0.6162" stop-color="#ff0303"/><stop offset="0.7190" stop-color="#ff0303"/><stop offset="0.7190" stop-color="#ff6e6e"/><stop offset="0.7452" stop-color="#ff6e6e"/><stop offset="0.7452" stop-color="#ffc3c3"/><stop offset="0.8378" stop-color="#ffc3c3"/><stop offset="0.8378" stop-color="#ffebeb"/><stop offset="0.9570" stop-color="#ffebeb"/><stop offset="0.9570" stop-color="#fffcfc"/><stop offset="1.0000" stop-color="#fffcfc"/></linearGradient><linearGradient id="g19" x1="0" y1="0" x2="0" y2="1"><stop offset="0.0000" stop-color="#fff1f1"/><stop offset="0.0827" stop-color="#fff1f1"/><stop offset="0.0827" stop-color="#ffdddd"/><stop offset="0.1987" stop-color="#ffdddd"/><stop offset="0.1987" stop-color="#ffc3c3"/><stop offset="0.2343" stop-color="#ffc3c3"/><stop offset="0.2343" stop-color="#ff5f5f"/><stop offset="0.2657" stop-color="#ff5f5f"/><stop offset="0.2657" stop-color="#ffbbbb"/><stop offset="0.3013" stop-color="#ffbbbb"/><stop offset="0.3013" stop-color="#ff7777"/><stop offset="0.3369" stop-color="#ff7777"/><stop offset="0.3369" stop-color="#ff4e4e"/><stop offset="0.3503" stop-color="#ff4e4e"/><stop offset="0.3503" stop-color="#ff0000"/><stop offset="0.3729" stop-color="#ff0000"/><stop offset="0.3729" stop-color="#ff1f00"/><stop offset="0.4173" stop-color="#ff1f00"/><stop offset="0.4173" stop-color="#ff7000"/><stop offset="0.4441" stop-color="#ff7000"/><stop offset="0.4441" stop-color="#ffcf00"/><stop offset="0.4621" stop-color="#ffcf00"/><stop offset="0.4621" stop-color="#ff3a00"/><stop offset="0.4709" stop-color="#ff3a00"/><stop offset="0.4709" stop-color="#ffff1f"/><stop offset="0.5023" stop-color="#ffff1f"/><stop offset="0.5023" stop-color="#ff7000"/><stop offset="0.5291" stop-color="#ff7000"/><stop offset="0.5291" stop-color="#ffffff"/><stop offset="0.5467" stop-color="#ffffff"/><stop offset="0.5467" stop-color="#ff3a00"/><stop offset="0.6114" stop-color="#ff3a00"/><stop offset="0.6114" stop-color="#ff9900"/><stop offset="0.6483" stop-color="#ff9900"/><stop offset="0.6483" stop-color="#ff1f1f"/><stop offset="0.6682" stop-color="#ff1f1f"/><stop offset="0.6682" stop-color="#ff3300"/><stop offset="0.7052" stop-color="#ff3300"/><stop offset="0.7052" stop-color="#ff6300"/><stop offset="0.7320" stop-color="#ff6300"/><stop offset="0.7320" stop-color="#ff1f1f"/><stop offset="0.7856" stop-color="#ff1f1f"/><stop offset="0.7856" stop-color="#ff8282"/><stop offset="0.8156" stop-color="#ff8282"/><stop offset="0.8156" stop-color="#ffafaf"/><stop offset="0.8859" stop-color="#ffafaf"/><stop offset="0.8859" stop-color="#ffebeb"/><stop offset="0.9704" stop-color="#ffebeb"/><stop offset="0.9704" stop-color="#ffd6d6"/><stop offset="1.0000" stop-color="#ffd6d6"/></linearGradient><linearGradient id="g20" x1="0" y1="0" x2="0" y2="1"><stop offset="0.0000" stop-color="#ffdddd"/><stop offset="0.0306" stop-color="#ffdddd"/><stop offset="0.0306" stop-color="#ffebeb"/><stop offset="0.0537" stop-color="#ffebeb"/><stop offset="0.0537" stop-color="#ff9696"/><stop offset="0.0882" stop-color="#ff9696"/><stop offset="0.0882" stop-color="#ffdddd"/><stop offset="0.1149" stop-color="#ffdddd"/><stop offset="0.1149" stop-color="#ffb4b4"/><stop offset="0.1304" stop-color="#ffb4b4"/><stop offset="0.1304" stop-color="#ff5858"/><stop offset="0.1379" stop-color="#ff5858"/><stop offset="0.1379" stop-color="#ff7777"/><stop offset="0.1880" stop-color="#ff7777"/><stop offset="0.1880" stop-color="#ff0000"/><stop offset="0.2071" stop-color="#ff0000"/><stop offset="0.2071" stop-color="#ff5858"/><stop offset="0.2301" stop-color="#ff5858"/><stop offset="0.2301" stop-color="#ff1f00"/><stop offset="0.2572" stop-color="#ff1f00"/><stop offset="0.2572" stop-color="#ff5858"/><stop offset="0.2647" stop-color="#ff5858"/><stop offset="0.2647" stop-color="#ffeb00"/><stop offset="0.2802" stop-color="#ffeb00"/><stop offset="0.2802" stop-color="#ff0000"/><stop offset="0.2917" stop-color="#ff0000"/><stop offset="0.2917" stop-color="#ff9900"/><stop offset="0.3414" stop-color="#ff9900"/><stop offset="0.3414" stop-color="#ff0000"/><stop offset="0.3569" stop-color="#ff0000"/><stop offset="0.3569" stop-color="#ffc900"/><stop offset="0.4030" stop-color="#ffc900"/><stop offset="0.4030" stop-color="#ff7000"/><stop offset="0.4376" stop-color="#ff7000"/><stop offset="0.4376" stop-color="#ffdd00"/><stop offset="0.4607" stop-color="#ffdd00"/><stop offset="0.4607" stop-color="#ff1100"/><stop offset="0.4694" stop-color="#ff1100"/><stop offset="0.4694" stop-color="#ff8500"/><stop offset="0.4873" stop-color="#ff8500"/><stop offset="0.4873" stop-color="#ff3a00"/><stop offset="0.4952" stop-color="#ff3a00"/><stop offset="0.4952" stop-color="#ffc900"/><stop offset="0.5091" stop-color="#ffc900"/><stop offset="0.5091" stop-color="#ff0000"/><stop offset="0.5350" stop-color="#ff0000"/><stop offset="0.5350" stop-color="#ff6300"/><stop offset="0.5707" stop-color="#ff6300"/><stop offset="0.5707" stop-color="#ff0000"/><stop offset="0.5866" stop-color="#ff0000"/><stop offset="0.5866" stop-color="#ff3333"/><stop offset="0.6383" stop-color="#ff3333"/><stop offset="0.6383" stop-color="#ff3a00"/><stop offset="0.6622" stop-color="#ff3a00"/><stop offset="0.6622" stop-color="#ff1f1f"/><stop offset="0.7377" stop-color="#ff1f1f"/><stop offset="0.7377" stop-color="#ff6e6e"/><stop offset="0.7933" stop-color="#ff6e6e"/><stop offset="0.7933" stop-color="#ffa0a0"/><stop offset="0.8728" stop-color="#ffa0a0"/><stop offset="0.8728" stop-color="#ffd6d6"/><stop offset="0.9126" stop-color="#ffd6d6"/><stop offset="0.9126" stop-color="#fff1f1"/><stop offset="1.0000" stop-color="#fff1f1"/></linearGradient><linearGradient id="cb21" x1="0" y1="1" x2="0" y2="0"><stop offset="0.000" stop-color="#ffffff"/><stop offset="0.375" stop-color="#ff0000"/><stop offset="0.750" stop-color="#ffff00"/><stop offset="1.000" stop-color="#ffffff"/></linearGradient></defs>
<rect x="175.2" y="194.0" width="74.0" height="253.3" fill="url(#g1)"/>
<rect x="323.7" y="150.0" width="74.5" height="297.0" fill="url(#g2)"/>
<rect x="471.9" y="54.0" width="75.1" height="393.0" fill="url(#g3)"/>
<rect x="621.9" y="54.1" width="75.1" height="392.9" fill="url(#g4)"/>
<rect x="771.6" y="54.1" width="74.6" height="385.2" fill="url(#g5)"/>
<rect x="920.2" y="54.1" width="74.0" height="378.5" fill="url(#g6)"/>
<polygon points="213.8,366.2 512.0,234.6 661.1,224.5 810.2,185.5 959.3,165.4 959.3,234.0 213.8,377.0" fill="#00aaff" fill-opacity="0.50"/>
<polyline points="213.8,383.7 362.9,324.4 512.0,267.8 661.1,213.8 810.2,162.5 959.3,111.1" fill="none" stroke="#0072bd" stroke-width="6" stroke-linejoin="round"/>
<path d="M139.2 54.5 V449.5 H1183.0" fill="none" stroke="#262626" stroke-width="3.7" stroke-linecap="square"/>
<line x1="139.2" x2="156.7" y1="449.5" y2="449.5" stroke="#262626" stroke-width="3.7"/>
<text x="129" y="462.7" text-anchor="end" font-size="35.5" fill="#262626">0</text>
<line x1="139.2" x2="156.7" y1="317.8" y2="317.8" stroke="#262626" stroke-width="3.7"/>
<text x="129" y="331.0" text-anchor="end" font-size="35.5" fill="#262626">10</text>
<line x1="139.2" x2="156.7" y1="186.2" y2="186.2" stroke="#262626" stroke-width="3.7"/>
<text x="129" y="199.4" text-anchor="end" font-size="35.5" fill="#262626">20</text>
<line x1="139.2" x2="156.7" y1="54.5" y2="54.5" stroke="#262626" stroke-width="3.7"/>
<text x="129" y="67.7" text-anchor="end" font-size="35.5" fill="#262626">30</text>
<line x1="213.8" x2="213.8" y1="449.5" y2="432.0" stroke="#262626" stroke-width="3.7"/>
<line x1="362.9" x2="362.9" y1="449.5" y2="432.0" stroke="#262626" stroke-width="3.7"/>
<line x1="512.0" x2="512.0" y1="449.5" y2="432.0" stroke="#262626" stroke-width="3.7"/>
<line x1="661.1" x2="661.1" y1="449.5" y2="432.0" stroke="#262626" stroke-width="3.7"/>
<line x1="810.2" x2="810.2" y1="449.5" y2="432.0" stroke="#262626" stroke-width="3.7"/>
<line x1="959.3" x2="959.3" y1="449.5" y2="432.0" stroke="#262626" stroke-width="3.7"/>
<line x1="1108.4" x2="1108.4" y1="449.5" y2="432.0" stroke="#262626" stroke-width="3.7"/>
<text transform="translate(77,252.0) rotate(-90)" text-anchor="middle" font-size="36.6" fill="#262626">KER (eV)</text>
<text x="-2.6" y="32.7" font-size="45.4" letter-spacing="0.9" fill="#000">(a)</text>
<text x="1088.6" y="406.7" font-size="47.5" fill="#0072bd">C</text>
<text x="1121.5" y="388.5" font-size="31.5" fill="#0072bd">+</text>
<rect x="157.8" y="72.8" width="378.1" height="84.6" fill="#fff" stroke="#262626" stroke-width="3.7"/>
<rect x="163" y="79.6" width="56" height="30.8" fill="#00aaff" fill-opacity="0.5"/>
<text x="222.3" y="107.7" font-size="32" letter-spacing="-0.5" fill="#000">Simulation</text>
<line x1="163" x2="219.3" y1="136.0" y2="136.0" stroke="#0072bd" stroke-width="6"/>
<text x="222.3" y="148.7" font-size="32" letter-spacing="-0.5" fill="#000">Motomura et al. model</text>
<rect x="1210.7" y="54.5" width="37.6" height="395.0" fill="url(#cb7)" stroke="#262626" stroke-width="2.8"/>
<text x="1257.5" y="461.8" font-size="31.5" fill="#262626">0</text>
<line x1="1243" x2="1248.3" y1="370.5" y2="370.5" stroke="#262626" stroke-width="2.8"/>
<text x="1257.5" y="382.8" font-size="31.5" fill="#262626">0.2</text>
<line x1="1243" x2="1248.3" y1="291.5" y2="291.5" stroke="#262626" stroke-width="2.8"/>
<text x="1257.5" y="303.8" font-size="31.5" fill="#262626">0.4</text>
<line x1="1243" x2="1248.3" y1="212.5" y2="212.5" stroke="#262626" stroke-width="2.8"/>
<text x="1257.5" y="224.8" font-size="31.5" fill="#262626">0.6</text>
<line x1="1243" x2="1248.3" y1="133.5" y2="133.5" stroke="#262626" stroke-width="2.8"/>
<text x="1257.5" y="145.8" font-size="31.5" fill="#262626">0.8</text>
<text x="1257.5" y="66.8" font-size="31.5" fill="#262626">1</text>
<rect x="177.8" y="524.0" width="74.1" height="375.5" fill="url(#g8)"/>
<rect x="326.4" y="524.0" width="74.2" height="375.5" fill="url(#g9)"/>
<rect x="475.1" y="536.0" width="74.5" height="330.8" fill="url(#g10)"/>
<rect x="624.3" y="556.4" width="75.5" height="295.6" fill="url(#g11)"/>
<rect x="774.4" y="513.7" width="74.4" height="337.3" fill="url(#g12)"/>
<rect x="923.3" y="506.0" width="74.3" height="298.0" fill="url(#g13)"/>
<rect x="1072.4" y="506.0" width="74.0" height="334.0" fill="url(#g14)"/>
<line x1="177.8" x2="251.9" y1="510.6" y2="510.6" stroke="#cfcfcf" stroke-width="1.6"/>
<line x1="326.1" x2="401.0" y1="511.2" y2="511.2" stroke="#cfcfcf" stroke-width="1.6"/>
<line x1="326.1" x2="401.0" y1="519.0" y2="519.0" stroke="#cfcfcf" stroke-width="1.6"/>
<rect x="774.4" y="876.5" width="74.4" height="3.5" fill="#ffffff" stroke="#cccccc" stroke-width="1"/>
<rect x="774.4" y="880.0" width="74.4" height="4.2" fill="#ffffff" stroke="#cccccc" stroke-width="1"/>
<rect x="774.4" y="884.2" width="74.4" height="7.3" fill="#ffffff" stroke="#cccccc" stroke-width="1"/>
<rect x="923.3" y="808.5" width="74.3" height="5.0" fill="#ffffff" stroke="#cccccc" stroke-width="1"/>
<rect x="923.3" y="814.6" width="74.3" height="5.0" fill="#ffffff" stroke="#cccccc" stroke-width="1"/>
<rect x="923.3" y="821.2" width="74.3" height="3.4" fill="#ffffff" stroke="#cccccc" stroke-width="1"/>
<rect x="923.3" y="827.3" width="74.3" height="2.3" fill="#ffffff" stroke="#cccccc" stroke-width="1"/>
<rect x="326.4" y="524.0" width="74.2" height="376.0" fill="none" stroke="#cccccc" stroke-width="1"/>
<rect x="475.1" y="505.6" width="74.5" height="361.2" fill="none" stroke="#cccccc" stroke-width="1"/>
<rect x="475.1" y="868.9" width="74.5" height="27.4" fill="none" stroke="#cccccc" stroke-width="1"/>
<rect x="624.3" y="507.8" width="75.5" height="389.2" fill="none" stroke="#cccccc" stroke-width="1"/>
<rect x="774.4" y="505.6" width="74.4" height="345.6" fill="none" stroke="#cccccc" stroke-width="1"/>
<rect x="923.3" y="505.6" width="74.3" height="298.6" fill="none" stroke="#cccccc" stroke-width="1"/>
<line x1="1072.9" x2="1072.9" y1="505.6" y2="901.6" stroke="#cfcfcf" stroke-width="1.3"/>
<line x1="475.1" x2="549.6" y1="507.0" y2="507.0" stroke="#cfcfcf" stroke-width="1.6"/>
<line x1="475.1" x2="549.6" y1="509.0" y2="509.0" stroke="#cfcfcf" stroke-width="1.6"/>
<line x1="475.1" x2="549.6" y1="511.0" y2="511.0" stroke="#cfcfcf" stroke-width="1.6"/>
<line x1="475.1" x2="549.6" y1="513.0" y2="513.0" stroke="#cfcfcf" stroke-width="1.6"/>
<line x1="475.1" x2="549.6" y1="515.0" y2="515.0" stroke="#cfcfcf" stroke-width="1.6"/>
<line x1="475.1" x2="549.6" y1="523.8" y2="523.8" stroke="#cfcfcf" stroke-width="1.6"/>
<line x1="475.1" x2="549.6" y1="533.5" y2="533.5" stroke="#cfcfcf" stroke-width="1.6"/>
<line x1="475.1" x2="549.6" y1="866.8" y2="866.8" stroke="#cfcfcf" stroke-width="1.6"/>
<line x1="475.1" x2="549.6" y1="869.0" y2="869.0" stroke="#cfcfcf" stroke-width="1.6"/>
<line x1="624.3" x2="699.8" y1="511.2" y2="511.2" stroke="#cfcfcf" stroke-width="1.6"/>
<line x1="624.3" x2="699.8" y1="518.2" y2="518.2" stroke="#cfcfcf" stroke-width="1.6"/>
<line x1="624.3" x2="699.8" y1="524.6" y2="524.6" stroke="#cfcfcf" stroke-width="1.6"/>
<line x1="624.3" x2="699.8" y1="853.5" y2="853.5" stroke="#cfcfcf" stroke-width="1.6"/>
<line x1="624.3" x2="699.8" y1="869.0" y2="869.0" stroke="#cfcfcf" stroke-width="1.6"/>
<line x1="624.3" x2="699.8" y1="890.0" y2="890.0" stroke="#cfcfcf" stroke-width="1.6"/>
<line x1="774.4" x2="848.8" y1="512.6" y2="512.6" stroke="#cfcfcf" stroke-width="1.6"/>
<line x1="774.4" x2="848.8" y1="858.1" y2="858.1" stroke="#cfcfcf" stroke-width="1.6"/>
<line x1="774.4" x2="848.8" y1="875.6" y2="875.6" stroke="#cfcfcf" stroke-width="1.6"/>
<line x1="774.4" x2="848.8" y1="897.3" y2="897.3" stroke="#cfcfcf" stroke-width="1.6"/>
<line x1="923.3" x2="997.6" y1="831.8" y2="831.8" stroke="#cfcfcf" stroke-width="1.6"/>
<line x1="923.3" x2="997.6" y1="846.7" y2="846.7" stroke="#cfcfcf" stroke-width="1.6"/>
<line x1="923.3" x2="997.6" y1="853.1" y2="853.1" stroke="#cfcfcf" stroke-width="1.6"/>
<line x1="923.3" x2="997.6" y1="879.6" y2="879.6" stroke="#cfcfcf" stroke-width="1.6"/>
<line x1="1072.4" x2="1146.4" y1="876.0" y2="876.0" stroke="#cfcfcf" stroke-width="1.6"/>
<polygon points="362.9,746.6 512.0,690.0 661.1,634.0 810.2,591.0 959.3,551.5 1108.4,527.0 1108.4,623.0 959.3,649.5 810.2,676.0 661.1,709.5 512.0,749.4 362.9,784.0" fill="#f97d2d" fill-opacity="0.50"/>
<polyline points="213.8,846.0 362.9,793.6 512.0,746.2 661.1,698.4 810.2,653.8 959.3,609.4 1108.4,564.7" fill="none" stroke="#d95319" stroke-width="6" stroke-linejoin="round"/>
<polyline points="362.9,807.5 512.0,777.0 661.1,747.9 810.2,721.3 959.3,697.8" fill="none" stroke="#d95319" stroke-width="6" stroke-linejoin="round" stroke-dasharray="22.3 22.4"/>
<path d="M139.2 506.3 V901.6 H1183.0" fill="none" stroke="#262626" stroke-width="3.7" stroke-linecap="square"/>
<line x1="139.2" x2="156.7" y1="901.6" y2="901.6" stroke="#262626" stroke-width="3.7"/>
<text x="129" y="914.8" text-anchor="end" font-size="35.5" fill="#262626">0</text>
<line x1="139.2" x2="156.7" y1="769.8" y2="769.8" stroke="#262626" stroke-width="3.7"/>
<text x="129" y="783.0" text-anchor="end" font-size="35.5" fill="#262626">20</text>
<line x1="139.2" x2="156.7" y1="638.1" y2="638.1" stroke="#262626" stroke-width="3.7"/>
<text x="129" y="651.3" text-anchor="end" font-size="35.5" fill="#262626">40</text>
<line x1="139.2" x2="156.7" y1="506.3" y2="506.3" stroke="#262626" stroke-width="3.7"/>
<text x="129" y="519.5" text-anchor="end" font-size="35.5" fill="#262626">60</text>
<line x1="213.8" x2="213.8" y1="901.6" y2="884.1" stroke="#262626" stroke-width="3.7"/>
<line x1="362.9" x2="362.9" y1="901.6" y2="884.1" stroke="#262626" stroke-width="3.7"/>
<line x1="512.0" x2="512.0" y1="901.6" y2="884.1" stroke="#262626" stroke-width="3.7"/>
<line x1="661.1" x2="661.1" y1="901.6" y2="884.1" stroke="#262626" stroke-width="3.7"/>
<line x1="810.2" x2="810.2" y1="901.6" y2="884.1" stroke="#262626" stroke-width="3.7"/>
<line x1="959.3" x2="959.3" y1="901.6" y2="884.1" stroke="#262626" stroke-width="3.7"/>
<line x1="1108.4" x2="1108.4" y1="901.6" y2="884.1" stroke="#262626" stroke-width="3.7"/>
<text transform="translate(77,704.0) rotate(-90)" text-anchor="middle" font-size="36.6" fill="#262626">KER (eV)</text>
<text x="-2.6" y="496.9" font-size="45.4" letter-spacing="0.9" fill="#000">(b)</text>
<text x="1080.6" y="855.6" font-size="47.5" fill="#d95319">C</text>
<text x="1113.0" y="837.7" font-size="31.5" fill="#d95319">2+</text>
<rect x="157.4" y="524.1" width="378.1" height="124.7" fill="#fff" stroke="#262626" stroke-width="3.7"/>
<rect x="163" y="530.6" width="56" height="30.8" fill="#f97d2d" fill-opacity="0.5"/>
<text x="222.3" y="558.7" font-size="32" letter-spacing="-0.5" fill="#000">Simulation</text>
<line x1="163" x2="219.3" y1="587.0" y2="587.0" stroke="#d95319" stroke-width="6"/>
<text x="222.3" y="599.7" font-size="32" letter-spacing="-0.5" fill="#000">Motomura et al. model</text>
<line x1="163" x2="219.3" y1="627.0" y2="627.0" stroke="#d95319" stroke-width="6" stroke-dasharray="22.5 22.3"/>
<text x="222.3" y="639.7" font-size="32" letter-spacing="-0.5" fill="#000">KER after COB</text>
<rect x="1210.7" y="506.3" width="37.6" height="395.3" fill="url(#cb15)" stroke="#262626" stroke-width="2.8"/>
<text x="1257.5" y="913.9" font-size="31.5" fill="#262626">0</text>
<line x1="1243" x2="1248.3" y1="822.5" y2="822.5" stroke="#262626" stroke-width="2.8"/>
<text x="1257.5" y="834.8" font-size="31.5" fill="#262626">0.2</text>
<line x1="1243" x2="1248.3" y1="743.5" y2="743.5" stroke="#262626" stroke-width="2.8"/>
<text x="1257.5" y="755.8" font-size="31.5" fill="#262626">0.4</text>
<line x1="1243" x2="1248.3" y1="664.4" y2="664.4" stroke="#262626" stroke-width="2.8"/>
<text x="1257.5" y="676.7" font-size="31.5" fill="#262626">0.6</text>
<line x1="1243" x2="1248.3" y1="585.4" y2="585.4" stroke="#262626" stroke-width="2.8"/>
<text x="1257.5" y="597.7" font-size="31.5" fill="#262626">0.8</text>
<text x="1257.5" y="518.6" font-size="31.5" fill="#262626">1</text>
<rect x="475.3" y="1107.7" width="74.2" height="223.9" fill="url(#g16)"/>
<rect x="624.3" y="1075.3" width="75.4" height="252.2" fill="url(#g17)"/>
<rect x="774.3" y="1043.5" width="74.4" height="213.9" fill="url(#g18)"/>
<rect x="923.2" y="1005.0" width="74.4" height="216.4" fill="url(#g19)"/>
<rect x="1072.3" y="1008.4" width="74.0" height="251.6" fill="url(#g20)"/>
<rect x="475.4" y="1043.0" width="74.0" height="4.0" fill="#ffebeb" stroke="#cccccc" stroke-width="1"/>
<rect x="475.4" y="1062.6" width="74.0" height="9.8" fill="#ffebeb" stroke="#cccccc" stroke-width="1"/>
<rect x="475.4" y="1079.0" width="74.0" height="6.0" fill="#ffebeb" stroke="#cccccc" stroke-width="1"/>
<rect x="475.4" y="1088.0" width="74.0" height="7.0" fill="#fff1f1" stroke="#cccccc" stroke-width="1"/>
<rect x="475.4" y="1099.0" width="74.0" height="5.5" fill="#ffebeb" stroke="#cccccc" stroke-width="1"/>
<rect x="475.4" y="1338.0" width="74.0" height="12.0" fill="#ffe4e4" stroke="#cccccc" stroke-width="1"/>
<rect x="624.5" y="1055.6" width="75.5" height="4.2" fill="#ffe4e4" stroke="#cccccc" stroke-width="1"/>
<rect x="624.5" y="1066.0" width="75.5" height="6.4" fill="#ffffff" stroke="#cccccc" stroke-width="1"/>
<rect x="624.5" y="1331.0" width="75.5" height="10.0" fill="#ffebeb" stroke="#cccccc" stroke-width="1"/>
<rect x="624.5" y="1345.0" width="75.5" height="7.0" fill="#ffffff" stroke="#cccccc" stroke-width="1"/>
<rect x="774.5" y="1005.3" width="74.4" height="3.4" fill="#ffffff" stroke="#cccccc" stroke-width="1"/>
<rect x="774.5" y="1017.9" width="74.4" height="9.8" fill="#ffffff" stroke="#cccccc" stroke-width="1"/>
<rect x="774.5" y="1034.7" width="74.4" height="5.5" fill="#ffebeb" stroke="#cccccc" stroke-width="1"/>
<rect x="774.5" y="1260.5" width="74.4" height="6.1" fill="#ffffff" stroke="#cccccc" stroke-width="1"/>
<rect x="774.5" y="1270.8" width="74.4" height="5.6" fill="#ffebeb" stroke="#cccccc" stroke-width="1"/>
<rect x="774.5" y="1279.0" width="74.4" height="4.4" fill="#ffffff" stroke="#cccccc" stroke-width="1"/>
<rect x="774.5" y="1289.8" width="74.4" height="15.2" fill="#ffffff" stroke="#cccccc" stroke-width="1"/>
<rect x="774.5" y="1309.4" width="74.4" height="3.3" fill="#ffe4e4" stroke="#cccccc" stroke-width="1"/>
<rect x="774.5" y="1318.9" width="74.4" height="9.2" fill="#ffffff" stroke="#cccccc" stroke-width="1"/>
<rect x="923.1" y="996.4" width="74.4" height="5.6" fill="#ffebeb" stroke="#cccccc" stroke-width="1"/>
<rect x="923.1" y="1226.0" width="74.4" height="6.0" fill="#fff1f1" stroke="#cccccc" stroke-width="1"/>
<rect x="923.1" y="1235.0" width="74.4" height="6.5" fill="#fff1f1" stroke="#cccccc" stroke-width="1"/>
<rect x="923.1" y="1252.0" width="74.4" height="6.0" fill="#fff1f1" stroke="#cccccc" stroke-width="1"/>
<rect x="923.1" y="1267.0" width="74.4" height="6.0" fill="#fff1f1" stroke="#cccccc" stroke-width="1"/>
<rect x="923.1" y="1277.0" width="74.4" height="2.0" fill="#fff1f1" stroke="#cccccc" stroke-width="1"/>
<rect x="923.1" y="1289.5" width="74.4" height="6.5" fill="#fff1f1" stroke="#cccccc" stroke-width="1"/>
<rect x="923.1" y="1312.0" width="74.4" height="3.5" fill="#fff1f1" stroke="#cccccc" stroke-width="1"/>
<rect x="1072.3" y="996.0" width="74.1" height="6.0" fill="#fff1f1" stroke="#cccccc" stroke-width="1"/>
<rect x="475.4" y="1107.0" width="74.0" height="222.5" fill="none" stroke="#cccccc" stroke-width="1"/>
<rect x="624.5" y="1075.0" width="75.5" height="252.0" fill="none" stroke="#cccccc" stroke-width="1"/>
<rect x="774.5" y="1043.9" width="74.4" height="212.9" fill="none" stroke="#cccccc" stroke-width="1"/>
<rect x="923.2" y="1005.3" width="74.4" height="216.7" fill="none" stroke="#cccccc" stroke-width="1"/>
<line x1="1072.8" x2="1072.8" y1="996.3" y2="1353.3" stroke="#cfcfcf" stroke-width="1.3"/>
<polygon points="661.1,1077.2 810.2,1028.9 959.3,1004.3 1108.4,974.8 1108.4,1051.0 959.3,1069.3 810.2,1090.5 661.1,1111.6" fill="#79c519" fill-opacity="0.50"/>
<polyline points="512.0,1229.6 661.1,1191.8 810.2,1154.5 959.3,1118.5 1108.4,1084.0" fill="none" stroke="#51870f" stroke-width="6" stroke-linejoin="round"/>
<polyline points="512.0,1180.0 661.1,1142.5 810.2,1106.5 959.3,1072.2" fill="none" stroke="#51870f" stroke-width="6" stroke-linejoin="round" stroke-dasharray="22.3 23"/>
<polyline points="512.0,1203.3 661.1,1177.2 810.2,1152.5 959.3,1130.5 1108.4,1110.2" fill="none" stroke="#51870f" stroke-width="6" stroke-linejoin="round" stroke-dasharray="7.6 6.1"/>
<path d="M139.2 958.1 V1353.3 H1183.0" fill="none" stroke="#262626" stroke-width="3.7" stroke-linecap="square"/>
<line x1="139.2" x2="156.7" y1="1353.3" y2="1353.3" stroke="#262626" stroke-width="3.7"/>
<text x="129" y="1366.5" text-anchor="end" font-size="35.5" fill="#262626">0</text>
<line x1="139.2" x2="156.7" y1="1274.3" y2="1274.3" stroke="#262626" stroke-width="3.7"/>
<text x="129" y="1287.5" text-anchor="end" font-size="35.5" fill="#262626">20</text>
<line x1="139.2" x2="156.7" y1="1195.2" y2="1195.2" stroke="#262626" stroke-width="3.7"/>
<text x="129" y="1208.4" text-anchor="end" font-size="35.5" fill="#262626">40</text>
<line x1="139.2" x2="156.7" y1="1116.2" y2="1116.2" stroke="#262626" stroke-width="3.7"/>
<text x="129" y="1129.4" text-anchor="end" font-size="35.5" fill="#262626">60</text>
<line x1="139.2" x2="156.7" y1="1037.1" y2="1037.1" stroke="#262626" stroke-width="3.7"/>
<text x="129" y="1050.3" text-anchor="end" font-size="35.5" fill="#262626">80</text>
<line x1="139.2" x2="156.7" y1="958.1" y2="958.1" stroke="#262626" stroke-width="3.7"/>
<text x="129" y="971.3" text-anchor="end" font-size="35.5" fill="#262626">100</text>
<line x1="213.8" x2="213.8" y1="1353.3" y2="1335.8" stroke="#262626" stroke-width="3.7"/>
<line x1="362.9" x2="362.9" y1="1353.3" y2="1335.8" stroke="#262626" stroke-width="3.7"/>
<line x1="512.0" x2="512.0" y1="1353.3" y2="1335.8" stroke="#262626" stroke-width="3.7"/>
<line x1="661.1" x2="661.1" y1="1353.3" y2="1335.8" stroke="#262626" stroke-width="3.7"/>
<line x1="810.2" x2="810.2" y1="1353.3" y2="1335.8" stroke="#262626" stroke-width="3.7"/>
<line x1="959.3" x2="959.3" y1="1353.3" y2="1335.8" stroke="#262626" stroke-width="3.7"/>
<line x1="1108.4" x2="1108.4" y1="1353.3" y2="1335.8" stroke="#262626" stroke-width="3.7"/>
<text transform="translate(77,1155.7) rotate(-90)" text-anchor="middle" font-size="36.6" fill="#262626">KER (eV)</text>
<text x="-2.6" y="952.1" font-size="45.4" letter-spacing="0.9" fill="#000">(c)</text>
<text x="1080.6" y="1310.2" font-size="47.5" fill="#51870f">C</text>
<text x="1113.0" y="1292.0" font-size="31.5" fill="#51870f">3+</text>
<rect x="157.7" y="976.1" width="377.9" height="165.1" fill="#fff" stroke="#262626" stroke-width="3.7"/>
<rect x="163" y="982.6" width="56" height="30.8" fill="#79c519" fill-opacity="0.5"/>
<text x="222.3" y="1010.7" font-size="32" letter-spacing="-0.5" fill="#000">Simulation</text>
<line x1="163" x2="219.3" y1="1039.0" y2="1039.0" stroke="#51870f" stroke-width="6"/>
<text x="222.3" y="1051.7" font-size="32" letter-spacing="-0.5" fill="#000">Motomura et al. model</text>
<line x1="163" x2="219.3" y1="1079.0" y2="1079.0" stroke="#51870f" stroke-width="6" stroke-dasharray="22.5 22.3"/>
<text x="222.3" y="1091.7" font-size="32" letter-spacing="-0.5" fill="#000">KER after COB</text>
<line x1="163" x2="219.3" y1="1119.0" y2="1119.0" stroke="#51870f" stroke-width="6" stroke-dasharray="6 5.2"/>
<text x="222.3" y="1131.7" font-size="32" letter-spacing="-0.5" fill="#000">Direct ionization</text>
<rect x="1210.7" y="958.1" width="37.6" height="395.2" fill="url(#cb21)" stroke="#262626" stroke-width="2.8"/>
<text x="1257.5" y="1365.6" font-size="31.5" fill="#262626">0</text>
<line x1="1243" x2="1248.3" y1="1274.3" y2="1274.3" stroke="#262626" stroke-width="2.8"/>
<text x="1257.5" y="1286.6" font-size="31.5" fill="#262626">0.2</text>
<line x1="1243" x2="1248.3" y1="1195.2" y2="1195.2" stroke="#262626" stroke-width="2.8"/>
<text x="1257.5" y="1207.5" font-size="31.5" fill="#262626">0.4</text>
<line x1="1243" x2="1248.3" y1="1116.2" y2="1116.2" stroke="#262626" stroke-width="2.8"/>
<text x="1257.5" y="1128.5" font-size="31.5" fill="#262626">0.6</text>
<line x1="1243" x2="1248.3" y1="1037.1" y2="1037.1" stroke="#262626" stroke-width="2.8"/>
<text x="1257.5" y="1049.4" font-size="31.5" fill="#262626">0.8</text>
<text x="1257.5" y="970.4" font-size="31.5" fill="#262626">1</text>
<text x="213.8" y="1399" text-anchor="middle" font-size="35.5" fill="#262626">1</text>
<text x="362.9" y="1399" text-anchor="middle" font-size="35.5" fill="#262626">2</text>
<text x="512.0" y="1399" text-anchor="middle" font-size="35.5" fill="#262626">3</text>
<text x="661.1" y="1399" text-anchor="middle" font-size="35.5" fill="#262626">4</text>
<text x="810.2" y="1399" text-anchor="middle" font-size="35.5" fill="#262626">5</text>
<text x="959.3" y="1399" text-anchor="middle" font-size="35.5" fill="#262626">6</text>
<text x="1108.4" y="1399" text-anchor="middle" font-size="35.5" fill="#262626">7</text>
<text x="505.2" y="1441.3" font-size="36.8" fill="#262626">Iodine charge state I</text>
<text x="839" y="1423.4" font-size="29" fill="#262626">q+</text>
</svg>
</body></html>
